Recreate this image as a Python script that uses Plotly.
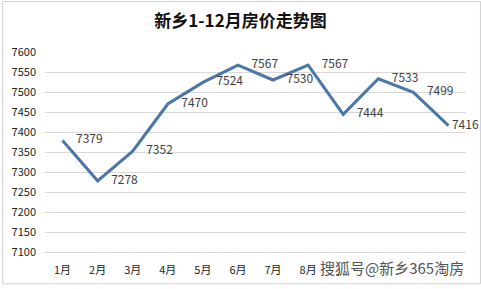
import plotly.graph_objects as go

months = ["1月", "2月", "3月", "4月", "5月", "6月", "7月", "8月", "9月", "10月", "11月", "12月"]
prices = [7379, 7278, 7352, 7470, 7524, 7567, 7530, 7567, 7444, 7533, 7499, 7416]
y_ticks = [7100, 7150, 7200, 7250, 7300, 7350, 7400, 7450, 7500, 7550, 7600]
title_text = "新乡1-12月房价走势图"
watermark = "搜狐号@新乡365淘房"

FONT = "Noto Sans CJK SC"
W, H = 481, 289
ML, MR, MT, MB = 43, 15, 52, 33

# invisible markers push the value labels away from the line (last one sits close, as in the source)
label_gap = [20] * (len(prices) - 1) + [4]

fig = go.Figure()
fig.add_trace(go.Scatter(
    x=months, y=prices, mode="lines+markers+text",
    line=dict(color="#4a76a8", width=3),
    marker=dict(size=label_gap, color="rgba(0,0,0,0)", line=dict(width=0)),
    text=[str(v) for v in prices],
    textposition="middle right",
    textfont=dict(family=FONT, size=12, color="#404040"),
    cliponaxis=False,
    hoverinfo="skip",
))

fig.update_layout(
    width=W, height=H,
    margin=dict(l=ML, r=MR, t=MT, b=MB),
    paper_bgcolor="white", plot_bgcolor="white",
    showlegend=False,
    title=dict(text="<b>" + title_text + "</b>", x=0.5, xanchor="center",
               y=1 - 21 / H, yanchor="middle",
               font=dict(family=FONT, size=17, color="#111111")),
    xaxis=dict(type="category", range=[-0.5, 11.5], showgrid=False,
               showline=True, linecolor="#d9d9d9", linewidth=1,
               ticks="", ticklabelstandoff=8,
               tickfont=dict(family=FONT, size=11, color="#222222")),
    yaxis=dict(range=[7100, 7600], tickvals=y_ticks,
               showgrid=True, gridcolor="#d9d9d9", gridwidth=1,
               zeroline=False, showline=False, ticks="", ticklabelstandoff=8,
               tickfont=dict(family=FONT, size=11, color="#222222")),
)

pw = W - ML - MR
ph = H - MT - MB
fig.add_shape(type="rect", xref="paper", yref="paper",
              x0=(0.5 - ML) / pw, x1=(W - 0.5 - ML) / pw,
              y0=-(MB - 0.5) / ph, y1=(H - MB - 0.5) / ph,
              line=dict(color="#d0d0d0", width=1), fillcolor="rgba(0,0,0,0)")

fig.add_annotation(text=watermark, xref="paper", yref="paper",
                   x=(466 - ML) / pw, y=-(272 - (H - MB)) / ph,
                   xanchor="right", yanchor="middle", showarrow=False,
                   bgcolor="white",
                   font=dict(family=FONT, size=15, color="#555555"))

fig.write_html("out.html")
